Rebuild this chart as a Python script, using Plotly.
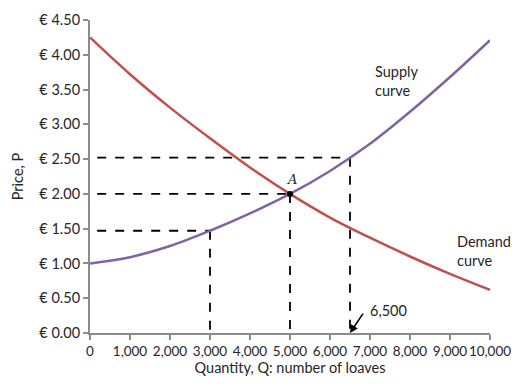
import plotly.graph_objects as go

quantity = [0, 1000, 2000, 3000, 4000, 5000, 6000, 7000, 8000, 9000, 10000]
supply_price = [1.00, 1.09, 1.25, 1.47, 1.72, 2.00, 2.33, 2.72, 3.18, 3.68, 4.21]
demand_price = [4.25, 3.72, 3.24, 2.80, 2.38, 2.00, 1.66, 1.37, 1.10, 0.85, 0.62]

guide_q = [3000, 5000, 6500]
guide_p = [1.47, 2.00, 2.52]

eq_q, eq_p = 5000, 2.00

y_ticks = [0, 0.5, 1.0, 1.5, 2.0, 2.5, 3.0, 3.5, 4.0, 4.5]
y_labels = ["€ 0.00", "€ 0.50", "€ 1.00", "€ 1.50", "€ 2.00", "€ 2.50",
            "€ 3.00", "€ 3.50", "€ 4.00", "€ 4.50"]
x_ticks = list(range(0, 10001, 1000))
x_labels = ["0", "1,000", "2,000", "3,000", "4,000", "5,000", "6,000",
            "7,000", "8,000", "9,000", "10,000"]

FONT = "Lato, Open Sans, sans-serif"
TXT = "#262626"

fig = go.Figure()

# dashed guides
for q, p in zip(guide_q, guide_p):
    fig.add_trace(go.Scatter(x=[180, q], y=[p, p], mode="lines",
                             line=dict(color="black", width=1.8, dash="dash"),
                             hoverinfo="skip", showlegend=False))
    fig.add_trace(go.Scatter(x=[q, q], y=[p, 0.02], mode="lines",
                             line=dict(color="black", width=1.8, dash="dash"),
                             hoverinfo="skip", showlegend=False))

fig.add_trace(go.Scatter(x=quantity, y=demand_price, mode="lines",
                         line=dict(color="#c0504d", width=2.5, shape="spline",
                                   smoothing=1.0),
                         name="Demand", showlegend=False))
fig.add_trace(go.Scatter(x=quantity, y=supply_price, mode="lines",
                         line=dict(color="#8064a2", width=2.5, shape="spline",
                                   smoothing=1.0),
                         name="Supply", showlegend=False))
fig.add_trace(go.Scatter(x=[eq_q], y=[eq_p], mode="markers",
                         marker=dict(color="black", size=6),
                         showlegend=False))

fig.add_annotation(x=eq_q, y=eq_p, text="<i>A</i>", showarrow=False,
                   xshift=2, yshift=14,
                   font=dict(family="DejaVu Serif, serif", size=13, color=TXT))
fig.add_annotation(x=7650, y=3.62, text="Supply<br>curve", showarrow=False,
                   align="left", xanchor="center",
                   font=dict(family=FONT, size=14.5, color=TXT))
fig.add_annotation(x=9850, y=1.18, text="Demand<br>curve", showarrow=False,
                   align="left", xanchor="center",
                   font=dict(family=FONT, size=14.5, color=TXT))
fig.add_annotation(x=6500, y=0, ax=6850, ay=0.3, axref="x", ayref="y",
                   text="", showarrow=True, arrowhead=2, arrowsize=1,
                   arrowwidth=1.6, arrowcolor="black")
fig.add_annotation(x=7450, y=0.33, text="6,500", showarrow=False,
                   font=dict(family=FONT, size=14.5, color=TXT))

fig.update_layout(
    width=522, height=382,
    margin=dict(l=82, r=40, t=12, b=57, autoexpand=False),
    paper_bgcolor="white", plot_bgcolor="white",
    font=dict(family=FONT, size=14, color=TXT),
    xaxis=dict(range=[0, 10000], tickvals=x_ticks, ticktext=x_labels,
               showgrid=False, zeroline=False, showline=True,
               linecolor="#8c8c8c", linewidth=2, ticks="outside",
               tickcolor="#8c8c8c", ticklen=5, tickwidth=1.5,
               tickfont=dict(size=13.5), tickangle=0, automargin=False,
               title=dict(text="Quantity, Q: number of loaves", standoff=2,
                          font=dict(size=14.5))),
    yaxis=dict(range=[0, 4.5], tickvals=y_ticks, ticktext=y_labels,
               showgrid=False, zeroline=False, showline=True,
               linecolor="#8c8c8c", linewidth=2, ticks="outside",
               tickcolor="#8c8c8c", ticklen=5, tickwidth=1.5,
               tickfont=dict(size=14.5), automargin=False,
               title=dict(text="Price, P", standoff=12, font=dict(size=14.5))),
)

fig.write_html("out.html")
